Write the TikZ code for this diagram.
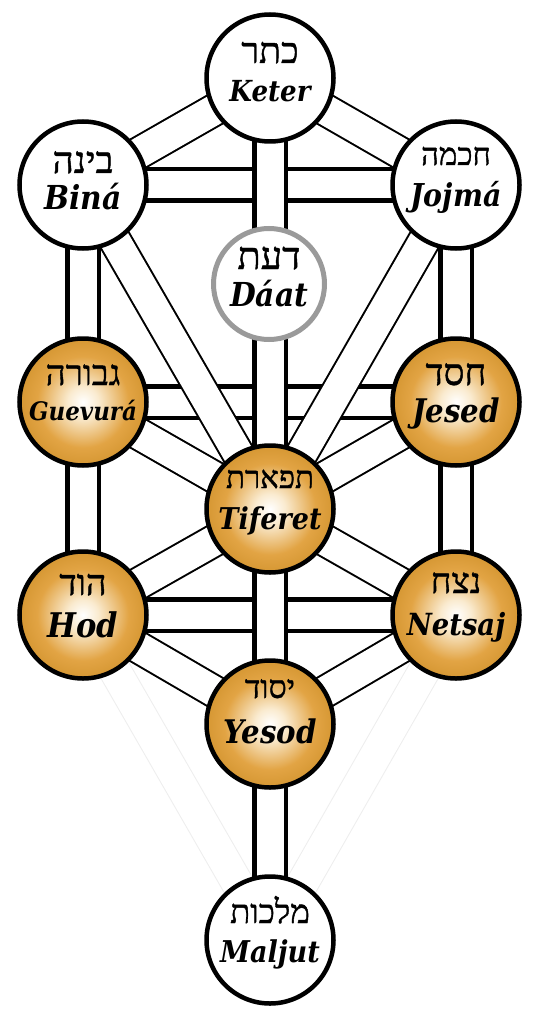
\documentclass[tikz,border=0pt]{standalone}
\usepackage{fontspec}
\TeXXeTstate=1
\newfontfamily\hebf[Script=Hebrew, FakeBold=1.2]{Liberation Serif}
\newfontfamily\latf[FakeStretch=0.9]{DejaVu Serif}
\usetikzlibrary{calc}
\definecolor{gA}{HTML}{FAEBD0}
\definecolor{gB}{HTML}{E2A444}
\definecolor{gC}{HTML}{C98A22}
\definecolor{gD}{HTML}{9C6412}
\definecolor{gE}{HTML}{5E3C06}
\definecolor{daatgray}{HTML}{9A9A9A}
\definecolor{faint}{HTML}{EEEEEE}
\pgfdeclareradialshading{goldball}{\pgfpoint{0bp}{0bp}}{color(0bp)=(white); color(6bp)=(gA); color(18bp)=(gB); color(32bp)=(gC); color(44bp)=(gD); color(50bp)=(gE)}
\tikzset{
  ball/.style={circle, inner sep=0pt, minimum size=127pt, draw=black, line width=4.5pt, shading=goldball},
  wball/.style={circle, inner sep=0pt, minimum size=127pt, draw=black, line width=4.5pt, fill=white},
  dball/.style={circle, inner sep=0pt, minimum size=111pt, draw=daatgray, line width=5pt, fill=white},
  heb/.style={inner sep=0pt, anchor=base, font=\hebf},
  lat/.style={inner sep=0pt, anchor=base, font=\latf\bfseries\itshape},
  thickB/.style={line width=36pt, black},
  thickW/.style={line width=27pt, white},
  diagB/.style={line width=34pt, black},
  diagW/.style={line width=30pt, white},
  faintB/.style={line width=33pt, faint},
  faintW/.style={line width=31pt, white},
}
\newcommand\hs[1]{\fontsize{#1}{#1}\selectfont}
\begin{document}
\begin{tikzpicture}[x=1pt, y=-1pt]
\useasboundingbox (0,0) rectangle (536,1024);
\fill[white] (0,0) rectangle (536,1024);
\coordinate (ketc) at (270,78);
\coordinate (binc) at (83,185);
\coordinate (jokc) at (456,185);
\coordinate (daac) at (269,284);
\coordinate (gevc) at (83,402);
\coordinate (jesc) at (456,402);
\coordinate (tifc) at (270,509);
\coordinate (hodc) at (83,615);
\coordinate (netc) at (456,615);
\coordinate (yesc) at (270,724);
\coordinate (malc) at (270,940);
% faint paths
\draw[faintB] (hodc) -- (malc);
\draw[faintB] (netc) -- (malc);
\draw[faintW] (hodc) -- (malc);
\draw[faintW] (netc) -- (malc);
% horizontal paths
\foreach \a/\b in {binc/jokc, gevc/jesc, hodc/netc}
  {\draw[thickB] (\a) -- (\b); \draw[thickW] (\a) -- (\b);}
% diagonal paths
\foreach \a/\b in {ketc/binc, ketc/jokc, binc/tifc, jokc/tifc, gevc/tifc, jesc/tifc, tifc/hodc, tifc/netc, hodc/yesc, netc/yesc}
  {\draw[diagB] (\a) -- (\b); \draw[diagW] (\a) -- (\b);}
% vertical paths
\foreach \a/\b in {ketc/yesc, yesc/malc, binc/hodc, jokc/netc}
  {\draw[thickB] (\a) -- (\b); \draw[thickW] (\a) -- (\b);}
% sefirot
\node[wball] (ket) at (ketc) {};
\node[wball] (bin) at (binc) {};
\node[wball] (jok) at (jokc) {};
\node[dball] (daa) at (daac) {};
\node[ball] (gev) at (gevc) {};
\node[ball] (jes) at (jesc) {};
\node[ball] (tif) at (tifc) {};
\node[ball] (hod) at (hodc) {};
\node[ball] (net) at (netc) {};
\node[ball] (yes) at (yesc) {};
\node[wball] (mal) at (malc) {};
% labels
\node[heb, font=\hebf\hs{36}] (ket-h) at ($(ket)+(0,-15)$) {\beginR כתר\endR};
\node[lat, font=\latf\bfseries\itshape\hs{29}] (ket-l) at ($(ket)+(0,24)$) {Keter};
\node[heb, font=\hebf\hs{37}] (bin-h) at ($(bin)+(0,-12)$) {\beginR בינה\endR};
\node[lat, font=\latf\bfseries\itshape\hs{33}] (bin-l) at ($(bin)+(0,25)$) {Biná};
\node[heb, font=\hebf\hs{31}] (jok-h) at ($(jok)+(0,-20)$) {\beginR חכמה\endR};
\node[lat, font=\latf\bfseries\itshape\hs{31.5}] (jok-l) at ($(jok)+(0,22)$) {Jojmá};
\node[heb, font=\hebf\hs{38}] (daa-h) at ($(daa)+(0,-15)$) {\beginR דעת\endR};
\node[lat, font=\latf\bfseries\itshape\hs{33}] (daa-l) at ($(daa)+(0,22)$) {Dáat};
\node[heb, font=\hebf\hs{35}] (gev-h) at ($(gev)+(0,-17)$) {\beginR גבורה\endR};
\node[lat, font=\latf\bfseries\itshape\hs{25.5}] (gev-l) at ($(gev)+(0,18)$) {Guevurá};
\node[heb, font=\hebf\hs{37}] (jes-h) at ($(jes)+(0,-17)$) {\beginR חסד\endR};
\node[lat, font=\latf\bfseries\itshape\hs{32.5}] (jes-l) at ($(jes)+(0,20)$) {Jesed};
\node[heb, font=\hebf\hs{31}] (tif-h) at ($(tif)+(0,-21)$) {\beginR תפארת\endR};
\node[lat, font=\latf\bfseries\itshape\hs{30}] (tif-l) at ($(tif)+(0,20)$) {Tiferet};
\node[heb, font=\hebf\hs{36}] (hod-h) at ($(hod)+(0,-20)$) {\beginR הוד\endR};
\node[lat, font=\latf\bfseries\itshape\hs{34}] (hod-l) at ($(hod)+(0,22)$) {Hod};
\node[heb, font=\hebf\hs{35}] (net-h) at ($(net)+(0,-22)$) {\beginR נצח\endR};
\node[lat, font=\latf\bfseries\itshape\hs{30.5}] (net-l) at ($(net)+(0,20)$) {Netsaj};
\node[heb, font=\hebf\hs{32}] (yes-h) at ($(yes)+(0,-26)$) {\beginR יסוד\endR};
\node[lat, font=\latf\bfseries\itshape\hs{32.5}] (yes-l) at ($(yes)+(0,19)$) {Yesod};
\node[heb, font=\hebf\hs{33}] (mal-h) at ($(mal)+(0,-17)$) {\beginR מלכות\endR};
\node[lat, font=\latf\bfseries\itshape\hs{30}] (mal-l) at ($(mal)+(0,22)$) {Maljut};
\end{tikzpicture}
\end{document}
